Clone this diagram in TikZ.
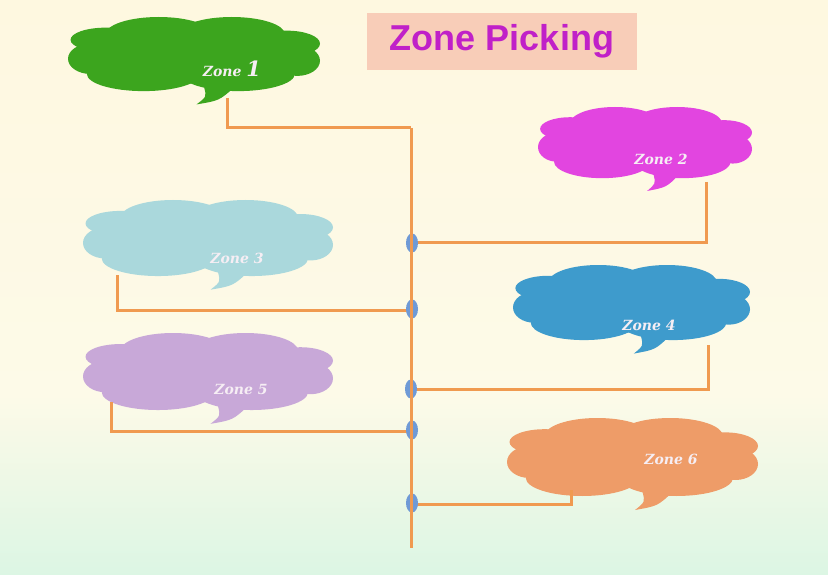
\documentclass[tikz,border=0pt]{standalone}
\usepackage{fontspec}
\usetikzlibrary{shapes.geometric}
\newfontfamily\titlefont{Liberation Sans}
\newfontfamily\zonefont{DejaVu Serif}
\definecolor{bgY}{HTML}{FEF8E0}
\definecolor{bgM}{HTML}{FDFAE8}
\definecolor{bgG}{HTML}{DCF6E4}
\definecolor{cGreen}{HTML}{3CA51E}
\definecolor{cMag}{HTML}{E245E0}
\definecolor{cTeal}{HTML}{AAD8DC}
\definecolor{cBlue}{HTML}{3E9BCC}
\definecolor{cLav}{HTML}{C8A8D8}
\definecolor{cSal}{HTML}{EE9C68}
\definecolor{lineO}{HTML}{F09A50}
\definecolor{dotB}{HTML}{6F9AD6}
\definecolor{titleBg}{HTML}{F8CDB8}
\definecolor{titleFg}{HTML}{C020C8}
\definecolor{zoneTxt}{HTML}{F6EEF4}
\newcommand\mycloud[5]{%
  \begin{scope}[shift={(#1,#2)}, xscale=#3, yscale=#4]
    \fill[#5] (0,0.05) ellipse [x radius=0.94, y radius=0.7];
    \fill[#5] (-0.82,0.1) ellipse [x radius=0.18, y radius=0.4];
    \fill[#5] (-0.7,-0.4) ellipse [x radius=0.28, y radius=0.32];
    \fill[#5] (-0.28,-0.55) ellipse [x radius=0.42, y radius=0.45];
    \fill[#5] (0.3,-0.55) ellipse [x radius=0.42, y radius=0.45];
    \fill[#5] (0.74,-0.3) ellipse [x radius=0.26, y radius=0.34];
    \fill[#5] (0.82,0.15) ellipse [x radius=0.18, y radius=0.4];
    \fill[#5] (-0.4,0.5) ellipse [x radius=0.45, y radius=0.45];
    \fill[#5] (0.35,0.5) ellipse [x radius=0.45, y radius=0.45];
    \fill[#5] (0.08,0.85) .. controls (0.1,1.1) .. (0.02,1.3)
      .. controls (0.2,1.2) .. (0.32,0.85) -- cycle;
  \end{scope}}
\begin{document}
\begin{tikzpicture}[x=1pt,y=-1pt,
  conn/.style={draw=lineO, line width=3pt},
  joint/.style={ellipse, fill=dotB, minimum width=12pt, minimum height=19pt, inner sep=0pt},
  zlabel/.style={text=zoneTxt, font=\zonefont\fontsize{14}{14}\selectfont\bfseries\itshape},
  title/.style={fill=titleBg, text=titleFg, font=\titlefont\fontsize{36}{36}\selectfont\bfseries,
    minimum width=270pt, minimum height=57pt, inner sep=0pt}]
  \useasboundingbox (0,0) rectangle (828,575);
  \shade[top color=bgY, bottom color=bgM] (0,0) rectangle (828,395);
  \shade[top color=bgM, bottom color=bgG] (0,395) rectangle (828,575);

  % title
  \node[title] (title) at (502,41.5) {Zone Picking};

  % clouds
  \mycloud{194}{55}{126}{38}{cGreen}
  \mycloud{645}{143.5}{107}{36.5}{cMag}
  \mycloud{208}{239}{125}{39}{cTeal}
  \mycloud{631.5}{303.5}{118.5}{38.5}{cBlue}
  \mycloud{208}{372.5}{125}{39.5}{cLav}
  \mycloud{632.5}{458}{125.5}{40}{cSal}

  \node[zlabel] (z1) at (232,69) {Zone \fontsize{21}{21}\selectfont 1};
  \node[zlabel] (z2) at (661,159) {Zone 2};
  \node[zlabel] (z3) at (237,258) {Zone 3};
  \node[zlabel] (z4) at (649,325) {Zone 4};
  \node[zlabel] (z5) at (241,389) {Zone 5};
  \node[zlabel] (z6) at (671,459) {Zone 6};

  % connector anchors
  \coordinate (c1) at (227,98);
  \coordinate (c2) at (706,182);
  \coordinate (c3) at (117,275);
  \coordinate (c4) at (708,345);
  \coordinate (c5) at (111,402);
  \coordinate (c6) at (571,490);
  \coordinate (top) at (411,128);
  \coordinate (bot) at (411,548);

  % branch connectors
  \draw[conn] (c1) |- (top);
  \draw[conn] (c2) |- (411,242);
  \draw[conn] (c3) |- (411,310);
  \draw[conn] (c4) |- (411,389);
  \draw[conn] (c5) |- (411,431);
  \draw[conn] (c6) |- (411,504);

  % joints
  \node[joint] (j2) at (412,243) {};
  \node[joint] (j3) at (412,309) {};
  \node[joint] (j4) at (411,389) {};
  \node[joint] (j5) at (412,430) {};
  \node[joint] (j6) at (412,503) {};

  % main line
  \draw[conn] (top) -- (bot);
\end{tikzpicture}
\end{document}
